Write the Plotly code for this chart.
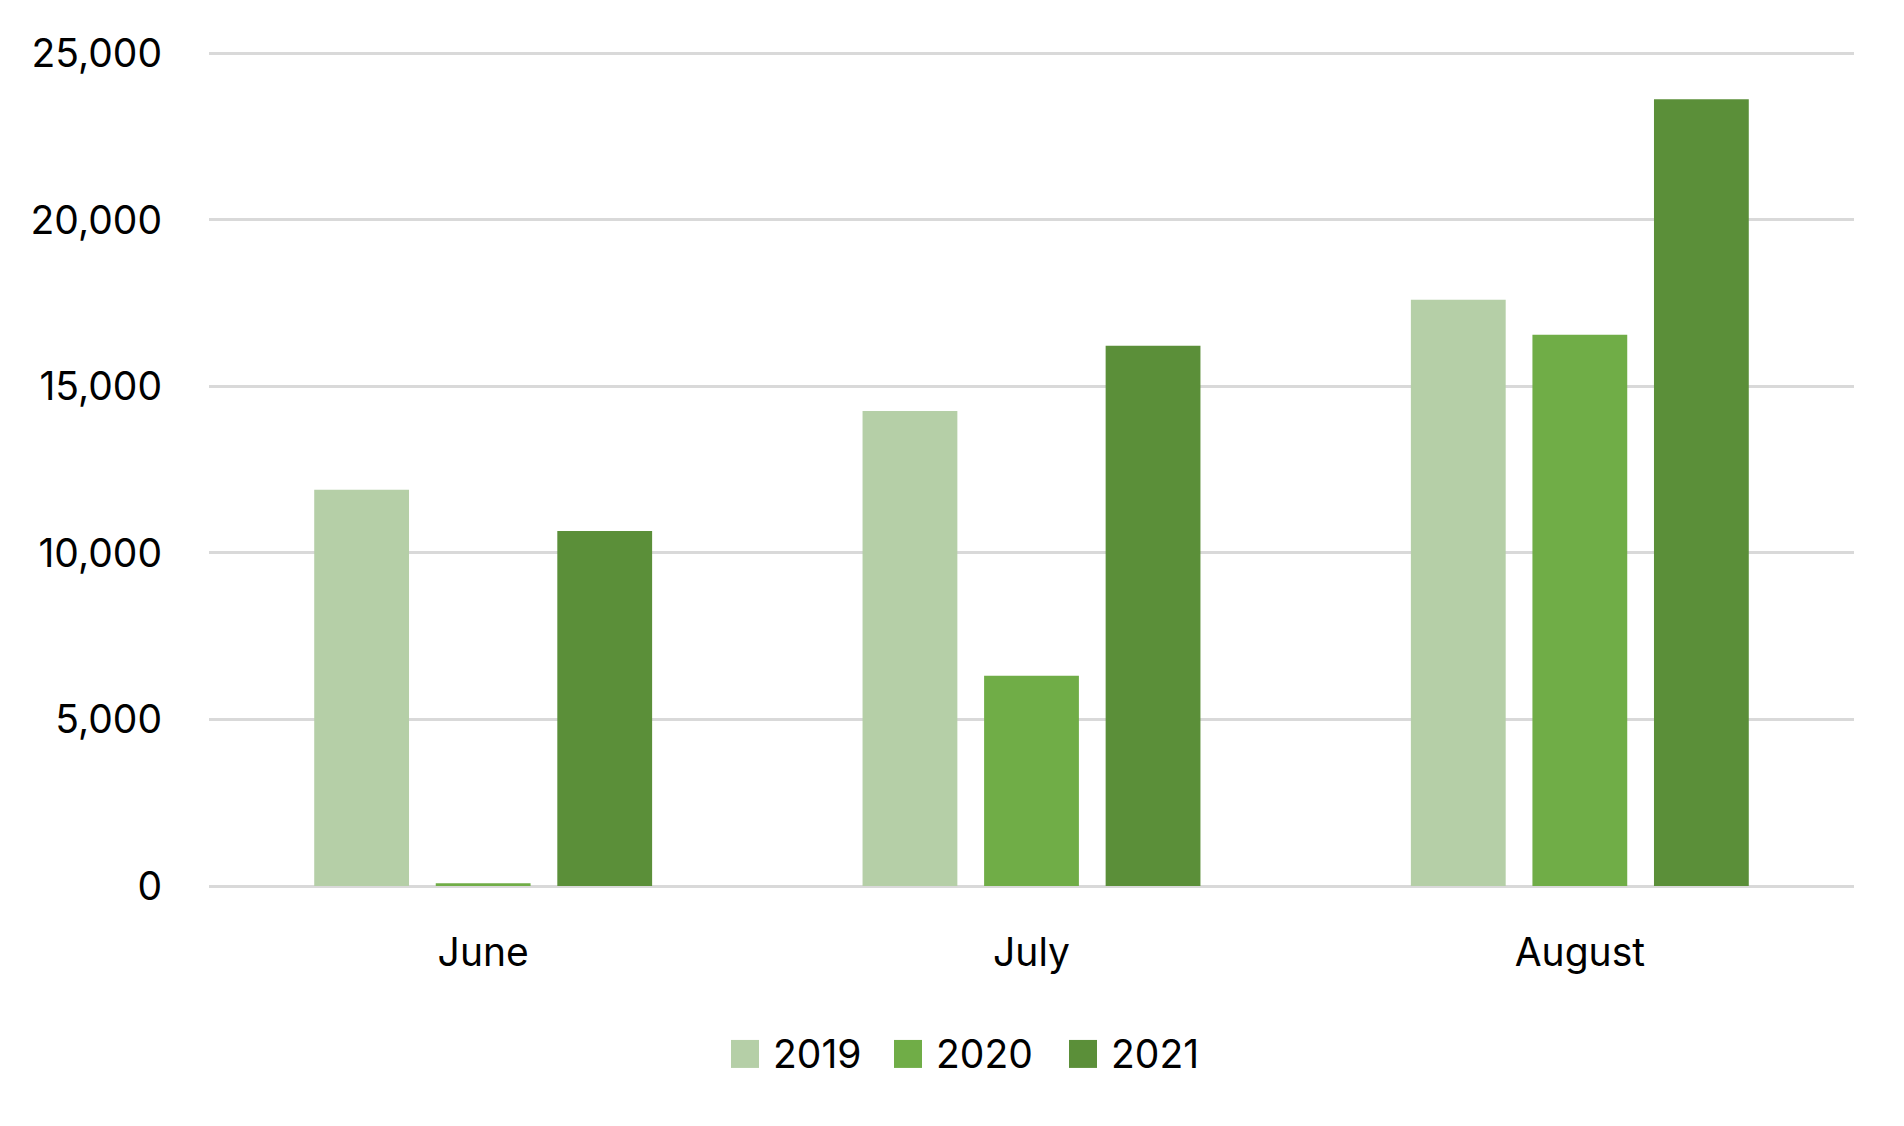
import plotly.graph_objects as go

# data
months = ["June", "July", "August"]
years = ["2019", "2020", "2021"]
values_2019 = [11900, 14260, 17600]
values_2020 = [80, 6310, 16550]
values_2021 = [10660, 16220, 23620]
y_ticks = [0, 5000, 10000, 15000, 20000, 25000]
y_top = 25100  # a little headroom so the 25,000 grid line is drawn

colors = ["#B5CFA7", "#70AD47", "#5B8F39"]
font_name = "Inter"
font_size = 39

# the page body has an 8px margin, so work in page pixels minus that
OFF = 8
W, H = 1904 - 2 * OFF, 1126 - 2 * OFF
plot_left, plot_right = 209 - OFF, 1854 - OFF
zero_y, top_grid_y = 886 - OFF, 53 - OFF
plot_top = zero_y - (zero_y - top_grid_y) * y_top / 25000
L, R = plot_left, W - plot_right
T, B = plot_top, H - zero_y


def to_paper(px, py):
    # page pixel position -> paper coordinates
    px, py = px - OFF, py - OFF
    return (px - L) / (W - L - R), (H - B - py) / (H - T - B)


fig = go.Figure()
for year, vals, col in zip(years, [values_2019, values_2020, values_2021], colors):
    fig.add_trace(go.Bar(
        x=months,
        y=vals,
        name=year,
        marker=dict(color=col, line=dict(width=0)),
        showlegend=False,
    ))

# legend drawn by hand so the swatches can be as big as in the original
legend_left = [731, 894, 1069]
swatch = 28
legend_mid = 1054
for year, col, lx in zip(years, colors, legend_left):
    x0, y0 = to_paper(lx, legend_mid + swatch / 2)
    x1, y1 = to_paper(lx + swatch, legend_mid - swatch / 2)
    fig.add_shape(type="rect", xref="paper", yref="paper",
                  x0=x0, y0=y0, x1=x1, y1=y1,
                  fillcolor=col, line=dict(width=0))
    tx, ty = to_paper(lx + swatch + 12, legend_mid)
    fig.add_annotation(text=year, xref="paper", yref="paper", x=tx, y=ty,
                       xanchor="left", yanchor="middle", showarrow=False,
                       font=dict(family=font_name, size=font_size, color="#000000"))

fig.update_layout(
    width=W,
    height=H,
    margin=dict(l=L, r=R, t=T, b=B, pad=0),
    paper_bgcolor="white",
    plot_bgcolor="white",
    barmode="group",
    bargap=0.335,
    bargroupgap=0.22,
    font=dict(family=font_name, size=font_size, color="#000000"),
    xaxis=dict(
        showgrid=False,
        showline=False,
        ticks="",
        ticklabelstandoff=40,
        tickfont=dict(size=font_size),
    ),
    yaxis=dict(
        range=[0, y_top],
        tickvals=y_ticks,
        tickformat=",d",
        showgrid=True,
        gridcolor="#D9D9D9",
        gridwidth=2.5,
        zeroline=True,
        zerolinecolor="#D9D9D9",
        zerolinewidth=2.5,
        showline=False,
        ticks="",
        ticklabelstandoff=46,
        tickfont=dict(size=font_size),
    ),
)

fig.write_html("out.html")
